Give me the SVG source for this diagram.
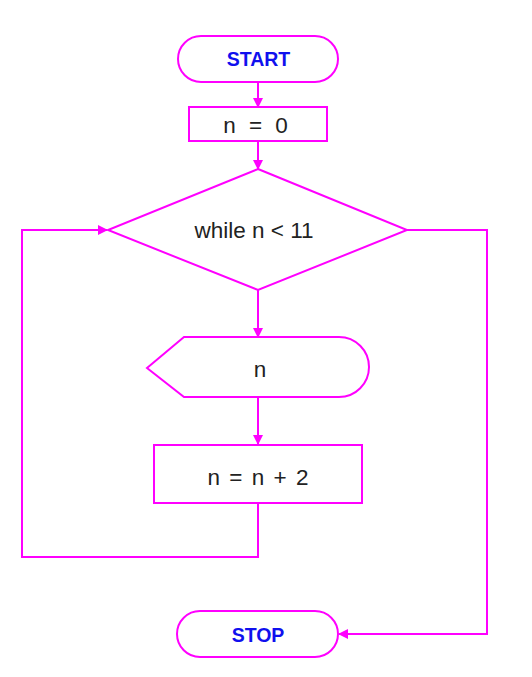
<svg xmlns="http://www.w3.org/2000/svg" width="532" height="677" viewBox="0 0 532 677">
<defs>
<marker id="ah" markerWidth="10" markerHeight="10" refX="9" refY="5" orient="auto" markerUnits="userSpaceOnUse">
<path d="M0,0 L10,5 L0,10 z" fill="#FF00FF"/>
</marker>
<style>
.s{fill:#fff;stroke:#FF00FF;stroke-width:2}
.c{fill:none;stroke:#FF00FF;stroke-width:2}
.t{font-family:"Liberation Sans",Arial,sans-serif;fill:#222;text-anchor:middle;font-size:22.5px}
.b{font-family:"Liberation Sans",Arial,sans-serif;fill:#1010EE;font-weight:bold;font-size:19.5px;text-anchor:middle}
</style>
</defs>
<rect width="532" height="677" fill="#fff"/>
<g id="connectors">
<line class="c" x1="258" y1="82" x2="258" y2="107" marker-end="url(#ah)"/>
<line class="c" x1="258" y1="141" x2="258" y2="169" marker-end="url(#ah)"/>
<line class="c" x1="258" y1="290" x2="258" y2="337" marker-end="url(#ah)"/>
<line class="c" x1="258" y1="397" x2="258" y2="444" marker-end="url(#ah)"/>
<polyline class="c" points="258,503 258,557 22,557 22,230 107,230" marker-end="url(#ah)"/>
<polyline class="c" points="407,230 487,230 487,634 339,634" marker-end="url(#ah)"/>
</g>
<g id="start">
<rect class="s" x="178" y="36" width="160" height="46" rx="23"/>
<text class="b" x="258.5" y="66">START</text>
</g>
<g id="init">
<rect class="s" x="189" y="107" width="138" height="34"/>
<text class="t" x="255.5" y="133" word-spacing="7">n = 0</text>
</g>
<g id="cond">
<polygon class="s" points="258,169 407,230 258,290 108,230"/>
<text class="t" x="254" y="238">while n &lt; 11</text>
</g>
<g id="output">
<path class="s" d="M147,368 L184,337 L339,337 A30,30 0 0 1 339,397 L184,397 Z"/>
<text class="t" x="260" y="377">n</text>
</g>
<g id="incr">
<rect class="s" x="154" y="445" width="208" height="58"/>
<text class="t" x="258" y="484.5" word-spacing="3">n = n + 2</text>
</g>
<g id="stop">
<rect class="s" x="177" y="611" width="161" height="46" rx="23"/>
<text class="b" x="258" y="641.5">STOP</text>
</g>
</svg>
